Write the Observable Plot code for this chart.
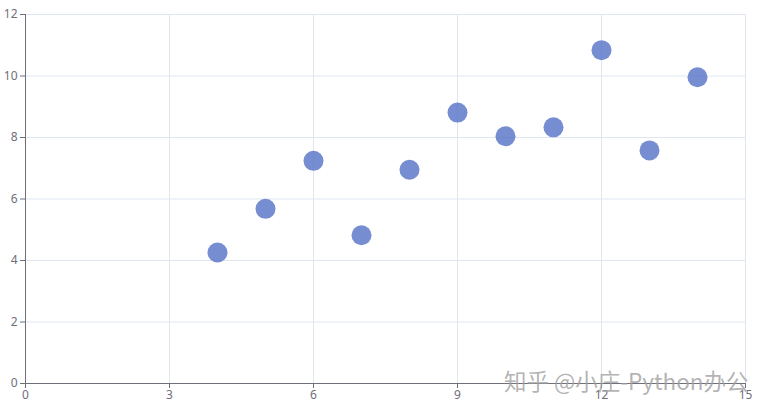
<!DOCTYPE html>
<html><head><meta charset="utf-8">
<script src="https://cdn.jsdelivr.net/npm/d3@7"></script>
<script src="https://cdn.jsdelivr.net/npm/@observablehq/plot@0.6"></script>
<style>body{margin:0;background:#fff;} svg{font-family:"Noto Sans","Noto Sans CJK SC",sans-serif;}</style>
</head><body><div id="chart"></div>
<script>
const xValues = [10, 8, 13, 9, 11, 14, 6, 4, 12, 7, 5];
const yValues = [8.04, 6.95, 7.58, 8.81, 8.33, 9.96, 7.24, 4.26, 10.84, 4.82, 5.68];
const xTicks = [0, 3, 6, 9, 12, 15];
const yTicks = [0, 2, 4, 6, 8, 10, 12];
const watermark = ["知乎 @小庄-Python办公"];

const data = xValues.map((x, i) => ({x, y: yValues[i]}));
const axisColor = "#6E7079";
const gridColor = "#E0E6F1";

const chart = Plot.plot({
  width: 765, height: 414,
  marginLeft: 25, marginRight: 20, marginTop: 14, marginBottom: 31,
  style: {fontSize: "12px", color: axisColor, background: "#fff", fontFamily: "'Noto Sans','Noto Sans CJK SC',sans-serif"},
  x: {domain: [0, 15]},
  y: {domain: [0, 12]},
  marks: [
    Plot.ruleX(xTicks.filter(d => d > 0), {stroke: gridColor, strokeWidth: 1}),
    Plot.ruleY(yTicks.filter(d => d > 0), {stroke: gridColor, strokeWidth: 1}),
    Plot.axisX({ticks: xTicks, tickSize: 5, tickPadding: 2, stroke: axisColor, fill: axisColor, label: null, fontSize: 12}),
    Plot.axisY({ticks: yTicks, tickSize: 5, tickPadding: 3, stroke: axisColor, fill: axisColor, label: null, fontSize: 12}),
    Plot.ruleX([0], {stroke: axisColor}),
    Plot.ruleY([0], {stroke: axisColor}),
    Plot.dot(data, {x: "x", y: "y", r: 10, fill: "#5470c6", fillOpacity: 0.8, stroke: null}),
    Plot.text(watermark, {text: d => d, frameAnchor: "bottom-right", dx: 3, dy: 6, fontSize: 22.5, fill: "#a0a0a0", fillOpacity: 0.8, textAnchor: "end", fontFamily: "'Noto Sans CJK SC',sans-serif"})
  ]
});
document.getElementById("chart").appendChild(chart);
</script>
</body></html>
